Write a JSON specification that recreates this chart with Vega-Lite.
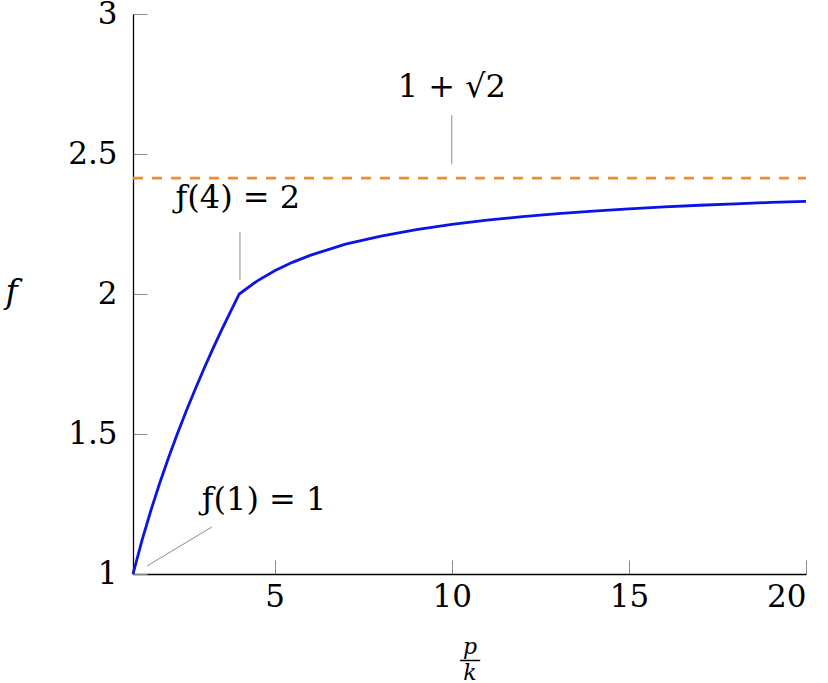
{
  "$schema": "https://vega.github.io/schema/vega-lite/v6.json",
  "autosize": "none",
  "width": 673,
  "height": 560,
  "padding": {"left": 133, "top": 14, "right": 22, "bottom": 109},
  "background": "white",
  "config": {
    "view": {"stroke": null},
    "font": "DejaVu Serif",
    "axis": {
      "grid": false,
      "domainColor": "#000000",
      "domainWidth": 1.3,
      "tickColor": "#8c8c8c",
      "tickWidth": 1,
      "tickSize": -14,
      "labelFont": "DejaVu Serif",
      "labelFontSize": 31,
      "labelColor": "#000000",
      "titleFont": "DejaVu Serif",
      "titleColor": "#000000",
      "titleFontStyle": "italic",
      "titleFontWeight": "normal"
    }
  },
  "datasets": {
    "curve": [
      {"x": 1, "y": 1},
      {"x": 1.25, "y": 1.118},
      {"x": 1.5, "y": 1.225},
      {"x": 1.75, "y": 1.323},
      {"x": 2, "y": 1.414},
      {"x": 2.25, "y": 1.5},
      {"x": 2.5, "y": 1.581},
      {"x": 2.75, "y": 1.658},
      {"x": 3, "y": 1.732},
      {"x": 3.25, "y": 1.803},
      {"x": 3.5, "y": 1.871},
      {"x": 3.75, "y": 1.936},
      {"x": 4, "y": 2},
      {"x": 4.5, "y": 2.046},
      {"x": 5, "y": 2.083},
      {"x": 5.5, "y": 2.113},
      {"x": 6, "y": 2.138},
      {"x": 7, "y": 2.178},
      {"x": 8, "y": 2.207},
      {"x": 9, "y": 2.23},
      {"x": 10, "y": 2.249},
      {"x": 11, "y": 2.264},
      {"x": 12, "y": 2.276},
      {"x": 13, "y": 2.287},
      {"x": 14, "y": 2.296},
      {"x": 15, "y": 2.304},
      {"x": 16, "y": 2.311},
      {"x": 17, "y": 2.317},
      {"x": 18, "y": 2.322},
      {"x": 19, "y": 2.327},
      {"x": 20, "y": 2.331}
    ],
    "limit": [
      {"x": 1, "y": 2.414},
      {"x": 20, "y": 2.414}
    ],
    "pins": [
      {"x": 1.4, "y": 1.029, "x2": 3.23, "y2": 1.168},
      {"x": 4.02, "y": 2.05, "x2": 4.02, "y2": 2.222},
      {"x": 10, "y": 2.464, "x2": 10, "y2": 2.639}
    ],
    "notes": [
      {"x": 4.7, "y": 1.229, "label": "ƒ(1) = 1"},
      {"x": 3.96, "y": 2.307, "label": "ƒ(4) = 2"},
      {"x": 10, "y": 2.704, "label": "1 + √2"}
    ]
  },
  "layer": [
    {
      "data": {"name": "limit"},
      "mark": {"type": "line", "color": "#f28c28", "strokeWidth": 2.8, "strokeDash": [10, 9]},
      "encoding": {
        "x": {
          "field": "x",
          "type": "quantitative",
          "scale": {"domain": [1, 20], "nice": false, "zero": false},
          "axis": {
            "values": [5, 10, 15, 20],
            "labelPadding": 22,
            "title": ["p", "—", "k"],
            "titleFontSize": 22,
            "titleLineHeight": 13,
            "titlePadding": 24
          }
        },
        "y": {
          "field": "y",
          "type": "quantitative",
          "scale": {"domain": [1, 3], "nice": false, "zero": false},
          "axis": {
            "values": [1, 1.5, 2, 2.5, 3],
            "labelExpr": "format(datum.value, '~g')",
            "labelPadding": 30,
            "title": "f",
            "titleFontSize": 33,
            "titleAngle": 0,
            "titleAlign": "left",
            "titleBaseline": "alphabetic",
            "titleX": -128,
            "titleY": 288
          }
        }
      }
    },
    {
      "data": {"name": "curve"},
      "mark": {"type": "line", "color": "#0a14e6", "strokeWidth": 2.8},
      "encoding": {
        "x": {"field": "x", "type": "quantitative"},
        "y": {"field": "y", "type": "quantitative"}
      }
    },
    {
      "data": {"name": "pins"},
      "mark": {"type": "rule", "color": "#8c8c8c", "strokeWidth": 1},
      "encoding": {
        "x": {"field": "x", "type": "quantitative"},
        "y": {"field": "y", "type": "quantitative"},
        "x2": {"field": "x2"},
        "y2": {"field": "y2"}
      }
    },
    {
      "data": {"name": "notes"},
      "mark": {"type": "text", "font": "DejaVu Serif", "fontSize": 32, "color": "#000000", "align": "center", "baseline": "alphabetic"},
      "encoding": {
        "x": {"field": "x", "type": "quantitative"},
        "y": {"field": "y", "type": "quantitative"},
        "text": {"field": "label"}
      }
    }
  ]
}
